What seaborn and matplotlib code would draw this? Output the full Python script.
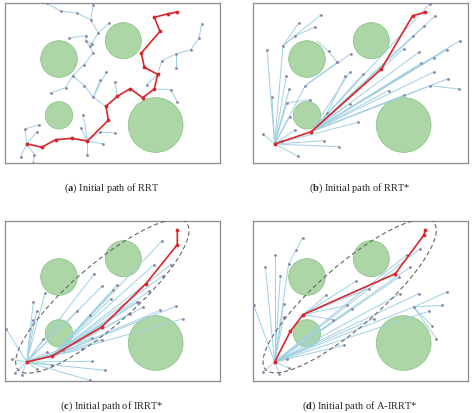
import seaborn as sns
import pandas as pd
import matplotlib.pyplot as plt
from matplotlib.patches import Circle, Ellipse

# all coordinates are in a 645 x 480 frame (at 3x), y grows down
FRAME_W = 645
FRAME_H = 480

obstacles = [(162, 168, 55), (355, 113, 54), (162, 337, 41), (452, 366, 82)]

def shift(pts, dx, dy):
    return [(x - dx, y - dy) for x, y in pts]

# ---- (a) RRT
path_a = shift([(80, 432), (125, 443), (167, 420), (215, 416), (262, 424), (325, 362), (318, 320),
                (352, 290), (390, 267), (428, 294), (463, 268), (473, 224), (433, 203), (424, 160),
                (480, 95), (463, 53), (505, 42), (532, 37)], 15, 10)
tree_a = [shift(p, 15, 10) for p in [
    [(80, 432), (75, 388), (118, 375)],
    [(80, 432), (110, 398)],
    [(80, 432), (62, 472)],
    [(80, 432), (103, 465), (100, 490)],
    [(262, 424), (242, 385)],
    [(262, 424), (250, 345)],
    [(262, 424), (310, 433)],
    [(262, 424), (262, 466)],
    [(262, 424), (300, 397), (345, 400)],
    [(318, 320), (280, 293), (253, 258), (218, 228), (252, 195), (278, 160), (270, 140),
     (257, 125), (257, 108), (208, 115)],
    [(218, 228), (197, 264), (152, 280)],
    [(280, 293), (318, 218)],
    [(280, 293), (300, 242)],
    [(352, 290), (345, 247)],
    [(270, 140), (295, 100), (328, 70)],
    [(295, 100), (272, 60), (280, 15)],
    [(272, 60), (230, 40), (183, 35), (140, 10)],
    [(257, 125), (275, 133)],
    [(473, 224), (485, 183), (528, 163), (572, 150), (597, 115), (605, 73)],
    [(528, 163), (528, 205)],
    [(473, 224), (440, 255)],
    [(463, 268), (512, 270), (532, 307)],
]]

# ---- (b) RRT*
sb = (113, 433)
mb = (223, 396)
path_b = shift([sb, mb, (433, 208), (527, 48), (565, 38)], 48, 10)
tree_b = [shift(p, 48, 10) for p in
    [[sb, e] for e in [(78, 403), (183, 470), (305, 441), (262, 423), (135, 425), (363, 368),
                       (175, 390), (158, 352), (150, 310), (105, 292), (157, 268), (148, 228), (90, 150)]]
    + [[sb, (138, 138), (185, 70)], [(138, 138), (252, 45)], [(138, 138), (173, 110), (233, 82)],
       [(150, 310), (218, 300)], [sb, (205, 258), (342, 162)], [(240, 124), (275, 155), (300, 188)],
       [(205, 258), (300, 188)], [(270, 340), (325, 230)], [mb, (270, 340)], [(580, 258), (665, 268)]]
    + [[mb, e] for e in [(338, 218), (377, 224), (338, 312), (455, 273), (500, 287), (545, 158),
                         (590, 174), (553, 190), (590, 217), (630, 150), (668, 123), (633, 237),
                         (580, 258), (500, 147), (527, 110), (560, 80), (595, 48), (578, 12)]]]

# ---- (c) IRRT*
sc = (80, 470)
mc = (157, 452)
path_c = shift([sc, mc, (305, 365), (437, 236), (532, 118), (532, 75)], 15, 47)
tree_c = [shift(p, 15, 47) for p in
    [[sc, e] for e in [(18, 370), (35, 462), (45, 502), (65, 510), (100, 290), (110, 318), (135, 263),
                       (98, 345), (155, 480), (275, 468), (315, 495), (270, 525), (283, 205), (307, 242),
                       (230, 318), (130, 402), (140, 440), (190, 435), (245, 432), (305, 405),
                       (275, 398), (110, 490)]]
    + [[mc, e] for e in [(340, 255), (332, 280), (390, 325), (415, 290), (462, 178), (485, 108),
                         (512, 178), (488, 212), (447, 258), (410, 290), (430, 305), (480, 315),
                         (527, 303), (550, 340), (270, 330), (350, 240)]]]
ell_c = shift([(307, 273)], 15, 47)[0]

# ---- (d) A-IRRT*
sd = (113, 470)
path_d = shift([sd, (160, 378), (198, 328), (475, 205), (560, 90), (565, 75)], 48, 47)
tree_d = [shift(p, 48, 47) for p in
    [[sd, e] for e in [(50, 300), (85, 185), (113, 150), (130, 212), (155, 175), (140, 295),
                       (140, 335), (78, 500), (127, 505), (150, 462), (155, 488), (320, 420),
                       (345, 312), (410, 340), (487, 215), (520, 185), (550, 130), (510, 148),
                       (490, 265), (545, 265), (575, 318), (530, 305)]]
    + [[(155, 175), (178, 133), (197, 97)]]
    + [[(198, 328), e] for e in [(268, 270), (330, 300), (357, 228), (288, 343), (395, 250)]]
    + [[(530, 305), e] for e in [(630, 260), (615, 300), (585, 362), (598, 400)]]]
ell_d = shift([(338, 272)], 48, 47)[0]

panels = [
    ("a", "Initial path of RRT", path_a, tree_a, None, (5, 3)),
    ("b", "Initial path of RRT*", path_b, tree_b, None, (253, 3)),
    ("c", "Initial path of IRRT*", path_c, tree_c, ell_c, (5, 221)),
    ("d", "Initial path of A-IRRT*", path_d, tree_d, ell_d, (253, 221)),
]

sns.set_theme(style="white")
plt.rcParams["mathtext.fontset"] = "custom"
plt.rcParams["mathtext.bf"] = "Liberation Serif:bold"
plt.rcParams["mathtext.rm"] = "Liberation Serif"

W, H = 474, 413
fig = plt.figure(figsize=(W / 100, H / 100), dpi=100)
fig.patch.set_facecolor("white")

for letter, title, path, tree, ell, (px, py) in panels:
    ax = fig.add_axes([px / W, 1 - (py + 160) / H, 215 / W, 160 / H])
    ax.set_xticks([])
    ax.set_yticks([])
    for s in ax.spines.values():
        s.set_color("#8a8a8a")
        s.set_linewidth(0.9)
    for cx, cy, r in obstacles:
        ax.add_patch(Circle((cx, cy), r, facecolor="#acd6a6", edgecolor="#8fc48a", lw=0.6, zorder=1))
    rows = []
    for i, line in enumerate(tree):
        for j, (x, y) in enumerate(line):
            rows.append({"x": x, "y": y, "branch": i, "order": j})
    df = pd.DataFrame(rows)
    sns.lineplot(data=df, x="x", y="y", units="branch", estimator=None, sort=False,
                 color="#9fd0e2", lw=0.7, ax=ax, zorder=2)
    sns.scatterplot(data=df[df["order"] > 0], x="x", y="y", color="#8c84a6", s=4,
                    linewidth=0, ax=ax, zorder=3)
    pdf = pd.DataFrame(path, columns=["x", "y"])
    ax.plot(pdf["x"], pdf["y"], color="#d9262b", lw=1.2, zorder=4)
    ax.scatter(pdf["x"], pdf["y"], color="#d9262b", s=3, zorder=5)
    if ell is not None:
        ax.add_patch(Ellipse(ell, 670, 185, angle=-41, fill=False, edgecolor="#666666",
                             lw=0.8, ls=(0, (4, 2.5)), zorder=6))
    ax.set_xlabel("")
    ax.set_ylabel("")
    ax.set_xlim(0, FRAME_W)
    ax.set_ylim(FRAME_H, 0)
    fig.text((px + 107) / W, 1 - (py + 185) / H, r"($\mathbf{" + letter + r"}$) " + title,
             ha="center", va="center", fontsize=7.5, family="Liberation Serif")

fig.savefig("out.png", dpi=100)
